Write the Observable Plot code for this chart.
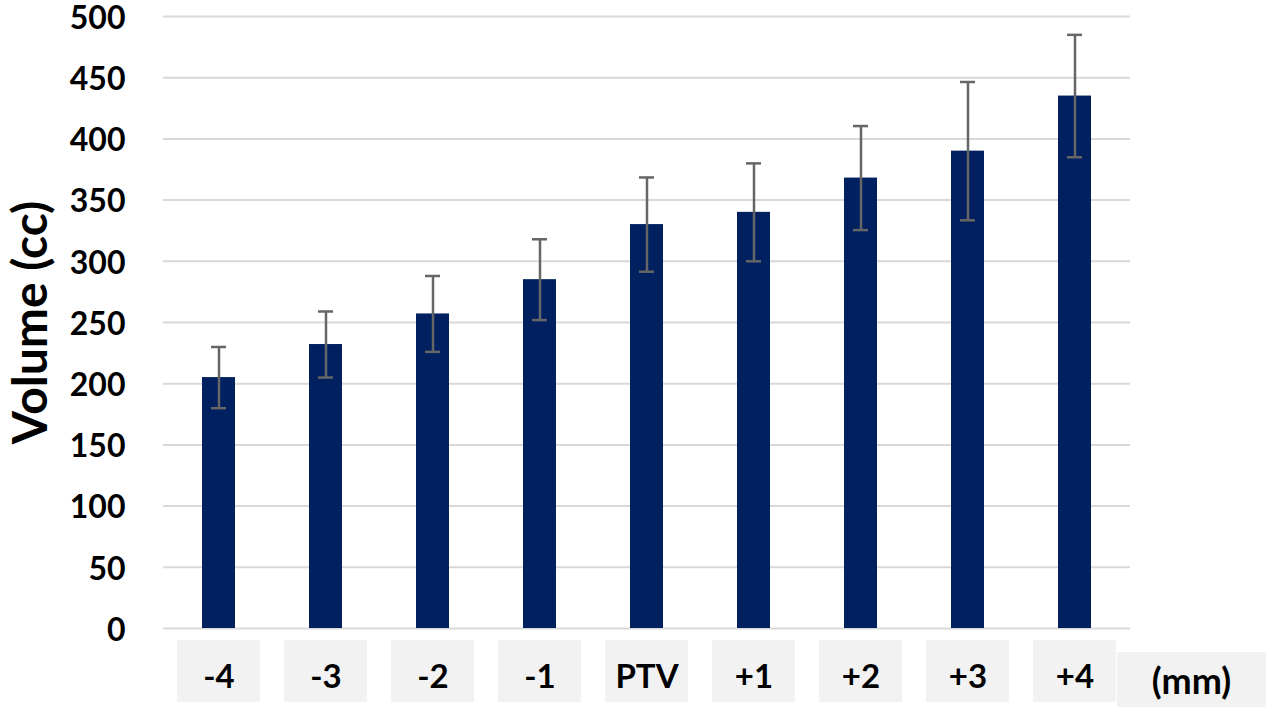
<!DOCTYPE html>
<html>
<head>
<meta charset="utf-8">
<script src="https://cdn.jsdelivr.net/npm/d3@7"></script>
<script src="https://cdn.jsdelivr.net/npm/@observablehq/plot@0.6"></script>
<style>
  html, body { margin: 0; padding: 0; background: #fff; }
  #wrap { position: relative; width: 1266px; height: 712px; font-family: Lato, "Open Sans", sans-serif; }
  #unit { position: absolute; left: 1117px; top: 652px; width: 149px; height: 55px; background: #f2f2f2;
          font-weight: bold; font-size: 36px; display: flex; align-items: center; justify-content: center; color: #000; }
</style>
</head>
<body>
<div id="wrap"></div>
<script>
const categories = ["-4", "-3", "-2", "-1", "PTV", "+1", "+2", "+3", "+4"];
const volumes = [205, 232, 257, 285, 330, 340, 368, 390, 435];
const errors = [25, 27, 31, 33, 38.5, 40, 42.5, 56.5, 50];
const yTicks = [0, 50, 100, 150, 200, 250, 300, 350, 400, 450, 500];
const yLabel = "Volume (cc)";
const unitLabel = "(mm)";

const data = categories.map((c, i) => ({cat: c, v: volumes[i], lo: volumes[i] - errors[i], hi: volumes[i] + errors[i]}));

const chart = Plot.plot({
  width: 1266,
  height: 712,
  marginLeft: 163,
  marginRight: 136,
  marginTop: 16,
  marginBottom: 84,
  style: {fontFamily: "Lato, 'Open Sans', sans-serif", background: "transparent", overflow: "visible"},
  x: {domain: categories, padding: 0, axis: null},
  y: {domain: [0, 500], axis: null},
  marks: [
    Plot.ruleY(yTicks, {stroke: "#d9d9d9", strokeWidth: 2}),
    Plot.barY(data, {x: "cat", y: "v", fill: "#002060", insetLeft: 37, insetRight: 37}),
    Plot.ruleX(data, {x: "cat", y1: "lo", y2: "hi", stroke: "#666666", strokeWidth: 2.5}),
    Plot.tickY(data, {x: "cat", y: "lo", stroke: "#666666", strokeWidth: 2.5, insetLeft: 46, insetRight: 46}),
    Plot.tickY(data, {x: "cat", y: "hi", stroke: "#666666", strokeWidth: 2.5, insetLeft: 46, insetRight: 46}),
    Plot.axisY(yTicks, {tickSize: 0, tickPadding: 38, dy: 2, fontSize: 32, fontWeight: "bold", fill: "#000", label: null}),
    Plot.barY(categories, {x: d => d, y1: -9.8, y2: -60.4, fill: "#f2f2f2", insetLeft: 12, insetRight: 12}),
    Plot.text(categories, {x: d => d, y: -40, text: d => d, fontSize: 33, fontWeight: "bold", fill: "#000"}),
    Plot.text([yLabel], {frameAnchor: "left", textAnchor: "middle", dx: -132, rotate: -90, fontSize: 48, fontWeight: "bold", fill: "#000"})
  ]
});
const wrap = document.getElementById("wrap");
wrap.appendChild(chart);
const u = document.createElement("div");
u.id = "unit";
u.textContent = unitLabel;
wrap.appendChild(u);
chart.style.position = "absolute";
chart.style.left = "0";
chart.style.top = "0";
</script>
</body>
</html>
